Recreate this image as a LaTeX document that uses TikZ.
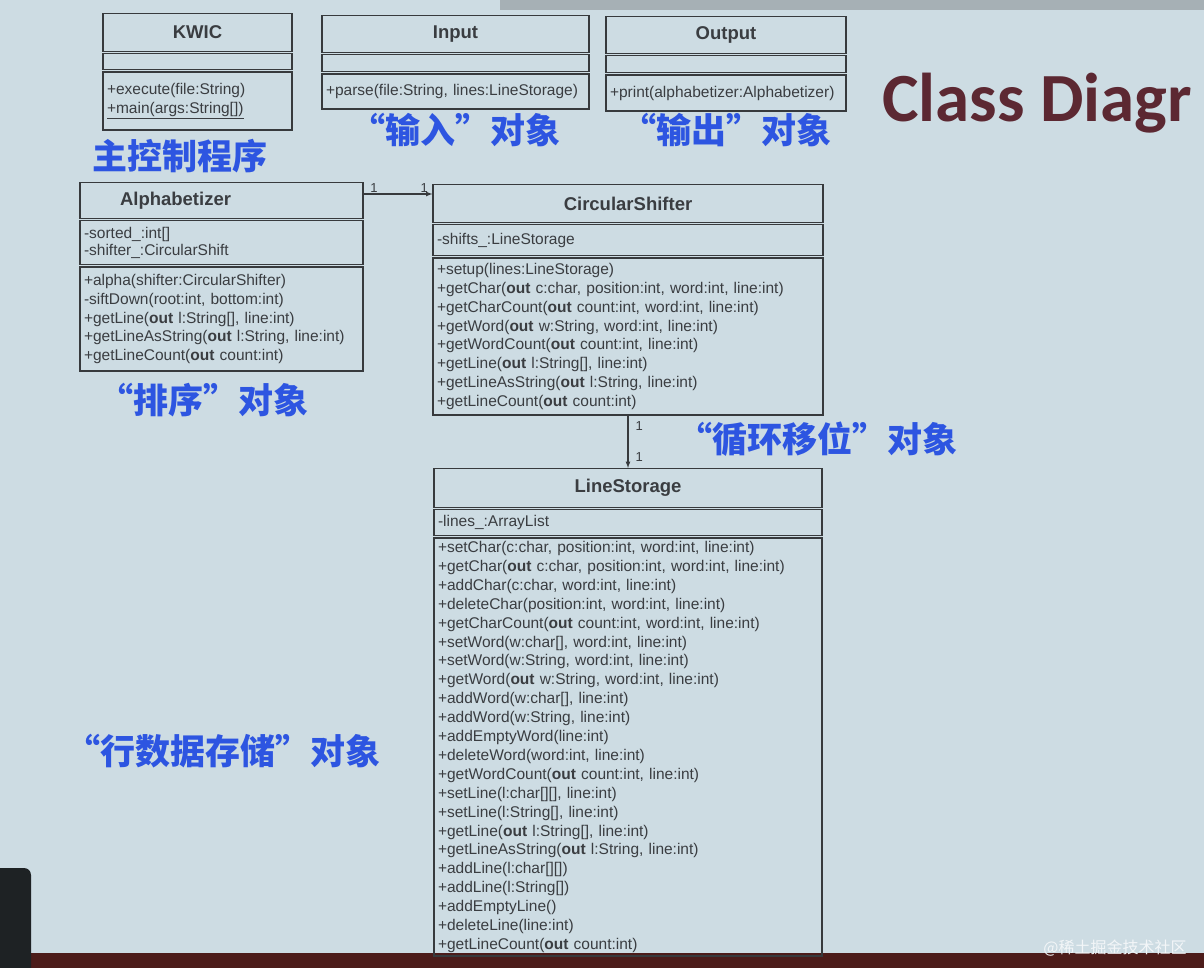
\documentclass[tikz,border=0pt]{standalone}
\usepackage{fontspec}
\setmainfont{Liberation Sans}
\newfontfamily\cjk{Noto Sans CJK SC}
\newfontfamily\slidefont{Carlito}
\usetikzlibrary{arrows,positioning}

\definecolor{slidebg}{RGB}{205,220,227}
\definecolor{slidestrip}{RGB}{166,176,181}
\definecolor{slideband}{RGB}{76,28,26}
\definecolor{slidedark}{RGB}{30,34,36}
\definecolor{slidetitle}{RGB}{92,40,50}
\definecolor{umlline}{RGB}{55,58,61}
\definecolor{umltext}{RGB}{58,61,65}
\definecolor{labelblue}{RGB}{45,85,225}

\tikzset{
  basic/.style  = {draw=umlline, line width=1.2pt, text=umltext, anchor=north,
                   inner xsep=4pt, inner ysep=0pt},
  head/.style   = {basic, minimum width=#1, font=\fontsize{18.5}{22}\selectfont\bfseries},
  attrs/.style  = {basic, text width=#1, align=left,
                   font=\fontsize{15.5}{18.9}\selectfont},
  mult/.style   = {text=umltext, font=\fontsize{13}{14}\selectfont, inner sep=1pt},
  tag/.style    = {text=labelblue, inner sep=0pt,
                   font=\cjk\fontsize{35}{40}\selectfont\bfseries}
}

\begin{document}
\begin{tikzpicture}[x=1pt, y=-1pt, >=latex]

% slide background
\useasboundingbox (0,0) rectangle (1204,968);
\fill[slidebg] (0,0) rectangle (1204,968);
\fill[slidestrip] (500,0) rectangle (1204,10);
\fill[slideband] (0,953) rectangle (1204,968);
\fill[slidedark] (0,968) -- (0,868) -- (24,868) to[out=0,in=90] (31,875) -- (31,968) -- cycle;

\node[anchor=base west, inner sep=0pt, text=slidetitle,
      font=\slidefont\fontsize{69}{76}\selectfont\bfseries] (title) at (882,122) {Class Diagr};

% KWIC
\node[head=189, minimum height=38] (kwic-h) at (197.5,13) {KWIC};
\node[attrs=181, minimum height=16, below=1pt of kwic-h] (kwic-a) {};
\node[attrs=181, minimum height=58, below=1pt of kwic-a] (kwic-m)
  {+execute(file:String)\\\underline{+main(args:String[])}};

% Input
\node[head=267, minimum height=37] (in-h) at (455.5,15) {Input};
\node[attrs=259, minimum height=17, below=1pt of in-h] (in-a) {};
\node[attrs=259, minimum height=35, below=1pt of in-a] (in-m)
  {+parse(file:String, lines:LineStorage)};

% Output
\node[head=240, minimum height=37] (out-h) at (726,16) {Output};
\node[attrs=232, minimum height=17, below=1pt of out-h] (out-a) {};
\node[attrs=232, minimum height=36, below=1pt of out-a] (out-m)
  {+print(alphabetizer:Alphabetizer)};

% Alphabetizer
\node[head=283, minimum height=36, text width=275, align=left] (alpha-h) at (221.5,182)
  {\hspace*{36pt}Alphabetizer};
\node[attrs=275, minimum height=44, below=1pt of alpha-h,
      font=\fontsize{15.5}{17}\selectfont] (alpha-a)
  {-sorted\_:int[]\\-shifter\_:CircularShift};
\node[attrs=275, minimum height=104, below=1pt of alpha-a] (alpha-m)
  {+alpha(shifter:CircularShifter)\\
   -siftDown(root:int, bottom:int)\\
   +getLine(\textbf{out} l:String[], line:int)\\
   +getLineAsString(\textbf{out} l:String, line:int)\\
   +getLineCount(\textbf{out} count:int)};

% CircularShifter
\node[head=390, minimum height=38] (cs-h) at (628,184) {CircularShifter};
\node[attrs=382, minimum height=31, below=1pt of cs-h] (cs-a) {-shifts\_:LineStorage};
\node[attrs=382, minimum height=157, below=1pt of cs-a] (cs-m)
  {+setup(lines:LineStorage)\\
   +getChar(\textbf{out} c:char, position:int, word:int, line:int)\\
   +getCharCount(\textbf{out} count:int, word:int, line:int)\\
   +getWord(\textbf{out} w:String, word:int, line:int)\\
   +getWordCount(\textbf{out} count:int, line:int)\\
   +getLine(\textbf{out} l:String[], line:int)\\
   +getLineAsString(\textbf{out} l:String, line:int)\\
   +getLineCount(\textbf{out} count:int)};

% LineStorage
\node[head=388, minimum height=39] (ls-h) at (628,468) {LineStorage};
\node[attrs=380, minimum height=26, below=1pt of ls-h] (ls-a) {-lines\_:ArrayList};
\node[attrs=380, minimum height=418, below=1pt of ls-a] (ls-m)
  {+setChar(c:char, position:int, word:int, line:int)\\
   +getChar(\textbf{out} c:char, position:int, word:int, line:int)\\
   +addChar(c:char, word:int, line:int)\\
   +deleteChar(position:int, word:int, line:int)\\
   +getCharCount(\textbf{out} count:int, word:int, line:int)\\
   +setWord(w:char[], word:int, line:int)\\
   +setWord(w:String, word:int, line:int)\\
   +getWord(\textbf{out} w:String, word:int, line:int)\\
   +addWord(w:char[], line:int)\\
   +addWord(w:String, line:int)\\
   +addEmptyWord(line:int)\\
   +deleteWord(word:int, line:int)\\
   +getWordCount(\textbf{out} count:int, line:int)\\
   +setLine(l:char[][], line:int)\\
   +setLine(l:String[], line:int)\\
   +getLine(\textbf{out} l:String[], line:int)\\
   +getLineAsString(\textbf{out} l:String, line:int)\\
   +addLine(l:char[][])\\
   +addLine(l:String[])\\
   +addEmptyLine()\\
   +deleteLine(line:int)\\
   +getLineCount(\textbf{out} count:int)};

% associations
\coordinate (a1) at ([yshift=-12pt]alpha-h.north east);
\draw[->, umlline, line width=1.2pt] (a1) -- (a1 -| cs-h.west)
  node[mult, pos=0.15, above] (m1) {1}
  node[mult, pos=0.88, above] (m2) {1};
\draw[->, umlline, line width=1.2pt] (cs-m.south) -- (ls-h.north)
  node[mult, pos=0.2, right=6pt] (m3) {1}
  node[mult, pos=0.8, right=6pt] (m4) {1};

% object labels
\node[tag] (t-kwic) at (180,156) {主控制程序};
\node[tag] (t-in) at (455,130) {“输入”对象};
\node[tag] (t-out) at (726,130) {“输出”对象};
\node[tag] (t-alpha) at (203,400) {“排序”对象};
\node[tag] (t-cs) at (817,439) {“循环移位”对象};
\node[tag] (t-ls) at (223,751) {“行数据存储”对象};

\node[text=white!75!slidebg, inner sep=0pt, font=\cjk\fontsize{16}{18}\selectfont]
  (mark) at (1115,948) {@稀土掘金技术社区};

\end{tikzpicture}
\end{document}
